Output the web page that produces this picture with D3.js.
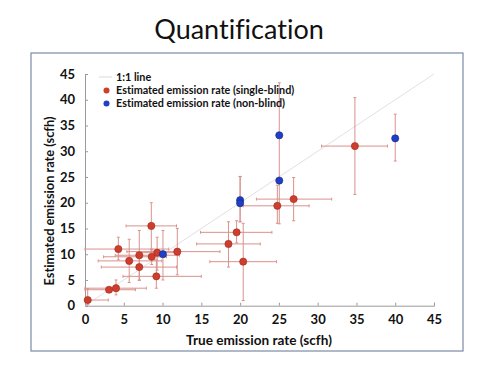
<!DOCTYPE html>
<html><head><meta charset="utf-8">
<script src="https://cdn.jsdelivr.net/npm/d3@7"></script>
<style>body{margin:0;background:#fff;}svg{display:block;}text{font-variant-ligatures:none;}</style>
</head><body>
<svg id="c" width="500" height="365"></svg>
<script>
// Single-blind points: true rate, estimated rate, x error range, y error range
const redX    = [0.35, 3.1, 4.0, 4.3, 5.7, 7.0, 7.0, 8.55, 8.6, 9.3, 9.2, 11.9, 18.5, 19.55, 20.4, 24.8, 26.9, 34.8];
const redY    = [1.1, 3.1, 3.4, 11.0, 8.7, 9.8, 7.5, 15.5, 9.5, 10.3, 5.7, 10.5, 12.0, 14.25, 8.55, 19.4, 20.7, 31.0];
const redXLo  = [0, 0, 0, 0, 1.7, 3.9, 2.1, 5.3, 2.4, 6.7, 4.9, 5.4, 14.4, 14.9, 16.1, 20.4, 22.1, 30.5];
const redXHi  = [3.0, 6.5, 7.9, 10.8, 9.9, 12.2, 11.8, 11.8, 10.5, 11.8, 15.0, 17.4, 22.6, 24.1, 24.7, 28.9, 31.8, 39.0];
const redYLo  = [0.2, 2.6, 2.1, 8.9, 4.5, 5.0, 4.9, 10.8, 8.0, 6.9, 3.4, 6.0, 7.5, 12.2, 1.0, 16.0, 16.5, 21.6];
const redYHi  = [3.3, 3.6, 5.0, 13.3, 12.9, 14.6, 10.0, 20.0, 11.0, 13.3, 8.9, 15.0, 16.3, 16.5, 16.0, 23.4, 24.9, 40.4];
// Non-blind points
const blueX   = [10.05, 20.0, 20.0, 25.05, 25.05, 40.0];
const blueY   = [10.0, 20.5, 19.9, 24.3, 33.1, 32.5];
const blueYLo = [5.0, 16.3, 16.3, 15.9, 24.3, 28.1];
const blueYHi = [14.6, 25.1, 25.1, 24.3, 43.3, 37.2];
const xTicks = [0,5,10,15,20,25,30,35,40,45];
const yTicks = [0,5,10,15,20,25,30,35,40,45];
const legendLabels = ["1:1 line", "Estimated emission rate (single-blind)", "Estimated emission rate (non-blind)"];

const svg = d3.select("#c");
const F = "Lato, 'Open Sans', sans-serif";

// frame
svg.append("rect").attr("x",31).attr("y",53).attr("width",432).attr("height",298)
  .attr("fill","none").attr("stroke","#7b8aa6").attr("stroke-width",1.2);
svg.append("text").attr("x",239).attr("y",39).attr("text-anchor","middle")
  .attr("font-family",F).attr("font-size",27).attr("fill","#111").text("Quantification");

const x = d3.scaleLinear().domain([0,45]).range([85,434]);
const y = d3.scaleLinear().domain([0,45]).range([305.7,74]);

// axes
const xa = svg.append("g").attr("transform","translate(0,305.7)")
  .call(d3.axisBottom(x).tickValues(xTicks).tickSize(-3).tickPadding(9));
const ya = svg.append("g").attr("transform","translate(85,0)")
  .call(d3.axisLeft(y).tickValues(yTicks).tickSize(-3).tickPadding(10));
[xa,ya].forEach(a=>{
  a.selectAll("path,line").attr("stroke","#9a9a9a");
  a.selectAll("text").attr("font-family",F).attr("font-size",13).attr("font-weight","bold").attr("fill","#111");
});

svg.append("text").attr("x",259).attr("y",345).attr("text-anchor","middle")
  .attr("font-family",F).attr("font-size",13.6).attr("font-weight","bold").attr("fill","#111")
  .text("True emission rate (scfh)");
svg.append("text").attr("transform","translate(54,201) rotate(-90)").attr("text-anchor","middle")
  .attr("font-family",F).attr("font-size",12.8).attr("font-weight","bold").attr("fill","#111")
  .text("Estimated emission rate (scfh)");

// 1:1 line
svg.append("line").attr("x1",x(0)).attr("y1",y(0)).attr("x2",x(45)).attr("y2",y(45))
  .attr("stroke","#d8d8d8").attr("stroke-width",0.8);

const ebColor = "#d9928d";
const cap = 1.5;
const gE = svg.append("g").attr("stroke",ebColor).attr("stroke-width",1);
function hbar(lo,hi,yy){
  gE.append("line").attr("x1",x(lo)).attr("x2",x(hi)).attr("y1",y(yy)).attr("y2",y(yy));
  gE.append("line").attr("x1",x(lo)).attr("x2",x(lo)).attr("y1",y(yy)-cap).attr("y2",y(yy)+cap);
  gE.append("line").attr("x1",x(hi)).attr("x2",x(hi)).attr("y1",y(yy)-cap).attr("y2",y(yy)+cap);
}
function vbar(xx,lo,hi){
  gE.append("line").attr("x1",x(xx)).attr("x2",x(xx)).attr("y1",y(lo)).attr("y2",y(hi));
  gE.append("line").attr("x1",x(xx)-cap).attr("x2",x(xx)+cap).attr("y1",y(lo)).attr("y2",y(lo));
  gE.append("line").attr("x1",x(xx)-cap).attr("x2",x(xx)+cap).attr("y1",y(hi)).attr("y2",y(hi));
}
redX.forEach((v,i)=>{ hbar(redXLo[i],redXHi[i],redY[i]); vbar(v,redYLo[i],redYHi[i]); });
blueX.forEach((v,i)=>{ vbar(v,blueYLo[i],blueYHi[i]); });

svg.append("g").selectAll("circle").data(redX).join("circle")
  .attr("cx",d=>x(d)).attr("cy",(d,i)=>y(redY[i])).attr("r",3.6)
  .attr("fill","#cf3d2c").attr("stroke","#9e2a1e").attr("stroke-width",0.6);
svg.append("g").selectAll("circle").data(blueX).join("circle")
  .attr("cx",d=>x(d)).attr("cy",(d,i)=>y(blueY[i])).attr("r",3.6)
  .attr("fill","#1f3fc4").attr("stroke","#132a8a").attr("stroke-width",0.6);

// legend
const lg = svg.append("g").attr("font-family",F).attr("font-size",10.8).attr("font-weight","bold").attr("fill","#111");
lg.append("line").attr("x1",99).attr("x2",112).attr("y1",77).attr("y2",77).attr("stroke","#cfcfcf").attr("stroke-width",0.8);
lg.append("circle").attr("cx",106.5).attr("cy",90.5).attr("r",3).attr("fill","#cf3d2c");
lg.append("circle").attr("cx",106.5).attr("cy",103.5).attr("r",3).attr("fill","#1f3fc4");
legendLabels.forEach((t,i)=>{
  lg.append("text").attr("x",116).attr("y",81+i*13.2).text(t);
});
</script>
</body></html>
